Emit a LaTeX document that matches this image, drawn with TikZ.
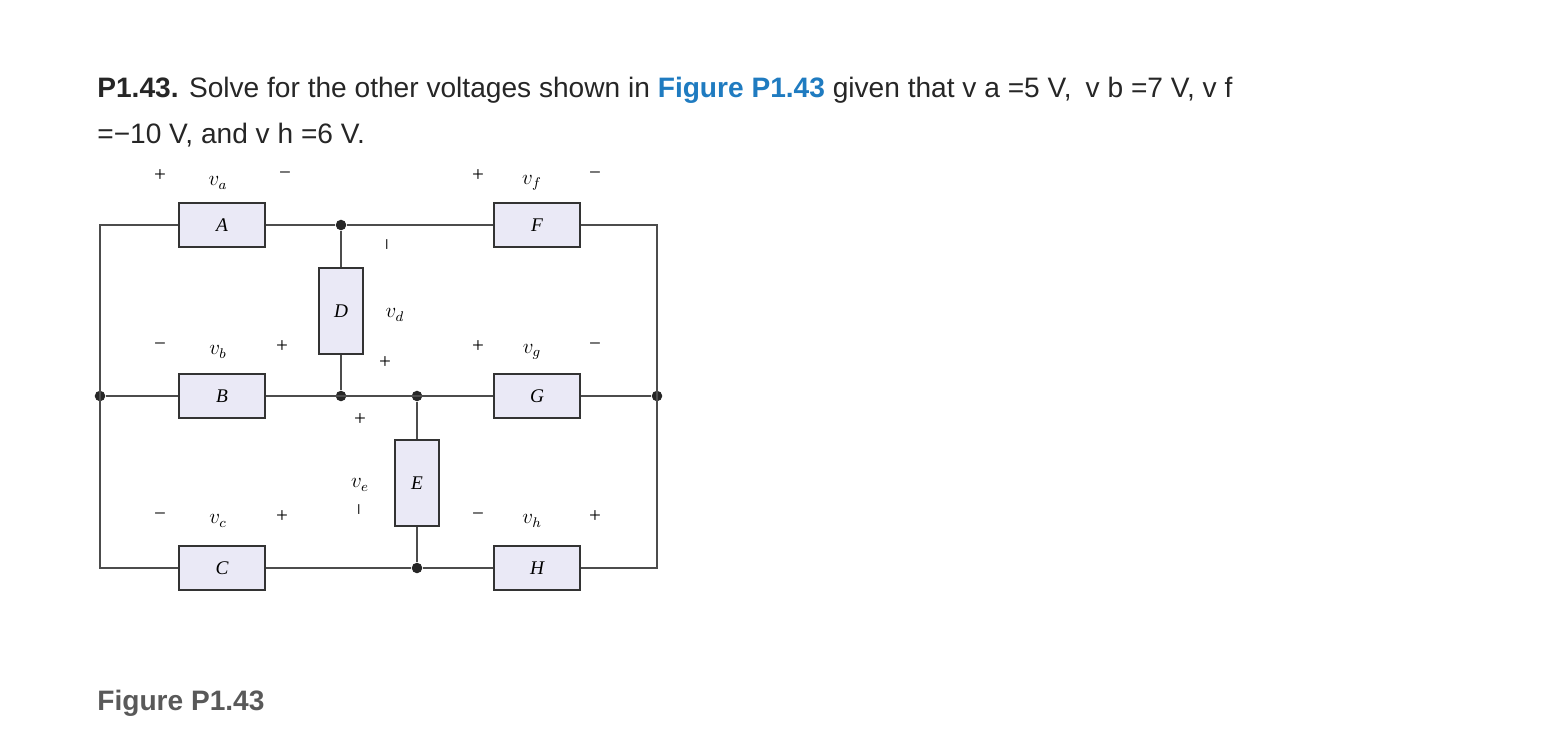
\documentclass[tikz,border=0pt]{standalone}
\usepackage{fontspec}
\setmainfont{Liberation Serif}
\newfontfamily\hdr{Liberation Sans}
\begin{document}
\begin{tikzpicture}[x=0.02cm,y=-0.02cm,
  box/.style={draw=black!80,line width=1.6pt,fill=cyan!20!blue!8,minimum width=1.72cm,minimum height=0.88cm,inner sep=0pt,font=\itshape\fontsize{11}{11}\selectfont},
  vbox/.style={box,minimum width=0.88cm,minimum height=1.72cm},
  wire/.style={draw=black!70,line width=0.9pt},
  dot/.style={circle,fill=black!85,inner sep=0pt,minimum size=6pt},
  lbl/.style={font=\fontsize{12}{12}\selectfont},
  hd/.style={anchor=base west,inner sep=0pt,font=\hdr\fontsize{16}{16}\selectfont,text=black!85}]
\useasboundingbox (0,0) rectangle (1549,751);
\node[hd] (t1) at (97,97) {\textbf{P1.43.} Solve for the other voltages shown in \textcolor[HTML]{1F7BC0}{\textbf{Figure P1.43}} given that v a =5 V,\enspace v b =7 V, v f};
\node[hd] (t2) at (97,143) {=−10 V, and v h =6 V.};
\node[hd,text=black!65] (fig) at (97,710) {\textbf{Figure P1.43}};
% corners / junctions
\coordinate (tl) at (100,225); \coordinate (tr) at (657,225);
\coordinate (bl) at (100,568); \coordinate (br) at (657,568);
\node[dot] (ml) at (100,396) {}; \node[dot] (mr) at (657,396) {};
\node[dot] (nd1) at (341,225) {}; \node[dot] (nd2) at (341,396) {};
\node[dot] (ne1) at (417,396) {}; \node[dot] (ne2) at (417,568) {};
% wires
\draw[wire] (nd1) -- (tl) -- (bl) -- (ne2) -- (br) -- (tr) -- (nd1);
\draw[wire] (ml) -- (mr);
\draw[wire] (nd1) -- (nd2); \draw[wire] (ne1) -- (ne2);
% boxes
\node[box] (A) at (222,225) {A}; \node[box] (F) at (537,225) {F};
\node[box] (B) at (222,396) {B}; \node[box] (G) at (537,396) {G};
\node[box] (C) at (222,568) {C}; \node[box] (H) at (537,568) {H};
\node[vbox] (D) at (341,311) {D}; \node[vbox] (E) at (417,483) {E};
% labels
\begin{scope}[every node/.style={lbl}]
\node at (160,176) {+}; \node at (218,183) {$v_a$}; \node at (285,176) {−};
\node at (478,176) {+}; \node at (532,183) {$v_f$}; \node at (595,176) {−};
\node[rotate=90] at (390,245) {−}; \node at (395,315) {$v_d$}; \node at (385,363) {+};
\node at (160,347) {−}; \node at (218,352) {$v_b$}; \node at (282,347) {+};
\node at (478,347) {+}; \node at (532,352) {$v_g$}; \node at (595,347) {−};
\node at (360,420) {+}; \node at (360,485) {$v_e$}; \node[rotate=90] at (362,510) {−};
\node at (160,517) {−}; \node at (218,521) {$v_c$}; \node at (282,517) {+};
\node at (478,517) {−}; \node at (532,521) {$v_h$}; \node at (595,517) {+};
\end{scope}
\end{tikzpicture}
\end{document}
